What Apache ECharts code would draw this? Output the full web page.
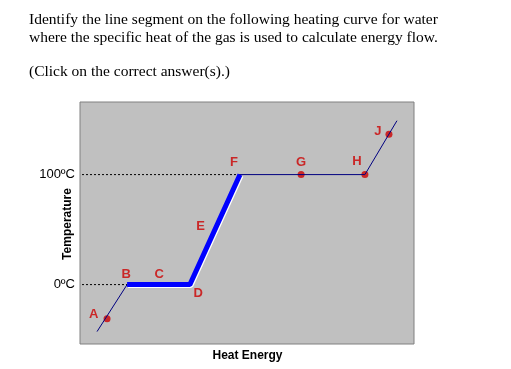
<!DOCTYPE html>
<html><head><meta charset="utf-8">
<script src="https://cdn.jsdelivr.net/npm/echarts@6/dist/echarts.min.js"></script>
<style>html,body{margin:0;padding:0;background:#fff}#c{width:511px;height:369px}</style>
</head><body><div id="c"></div>
<script>
// Heating curve vertices (heat energy units, temperature °C)
const curveX = [5.1, 14.1, 32.9, 47.9, 85.3, 94.9];
const curveT = [-42.7, 0, 0, 100, 100, 149];
// Reference temperatures (tick labels)
const tickTemps = [0, 100];
// Dots on the curve
const dotNames = ['A', 'G', 'H', 'J'];
const dotX = [8.1, 66.2, 85.3, 92.5];
const dotT = [-31, 100, 100, 136.6];
// Segment letters
const letterNames = ['A', 'B', 'C', 'D', 'E', 'F', 'G', 'H', 'J'];
const letterX = [4.1, 13.8, 23.7, 35.4, 36.1, 46.1, 66.2, 82.9, 89.2];
const letterT = [-27.5, 9.7, 9.7, -7.9, 52.6, 111.0, 111.0, 112.4, 139.6];

const pt = i => [curveX[i], curveT[i]];
const chart = echarts.init(document.getElementById('c'), null, {renderer: 'canvas'});
const red = '#cc0000';
const qFont = '15.5px "Liberation Serif", serif';
chart.setOption({
  animation: false,
  backgroundColor: '#ffffff',
  grid: {left: 80, top: 102, width: 334, height: 242, show: true,
    backgroundColor: '#c0c0c0', borderColor: '#808080', borderWidth: 1},
  xAxis: {type: 'value', min: 0, max: 100, axisLine: {show: false}, axisTick: {show: false},
    splitLine: {show: false}, axisLabel: {show: false}},
  yAxis: {type: 'value', min: -54, max: 166, axisLine: {show: false}, axisTick: {show: false},
    splitLine: {show: false},
    axisLabel: {customValues: tickTemps, formatter: v => v + 'ºC', margin: 5,
      fontFamily: 'Liberation Sans, Arial', fontSize: 13, color: '#000'}},
  graphic: [
    {type: 'text', left: 29, top: 12, style: {text: 'Identify the line segment on the following heating curve for water',
      font: qFont, fill: '#000'}},
    {type: 'text', left: 29, top: 30, style: {text: 'where the specific heat of the gas is used to calculate energy flow.',
      font: qFont, fill: '#000'}},
    {type: 'text', left: 29, top: 64, style: {text: '(Click on the correct answer(s).)',
      font: qFont, fill: '#000'}},
    {type: 'text', x: 68, y: 224, rotation: Math.PI / 2, style: {text: 'Temperature', align: 'center', verticalAlign: 'middle',
      font: 'bold 12px "Liberation Sans", Arial', fill: '#000'}},
    {type: 'text', x: 247.5, y: 356, style: {text: 'Heat Energy', align: 'center', verticalAlign: 'middle',
      font: 'bold 12px "Liberation Sans", Arial', fill: '#000'}}
  ],
  series: [
    {type: 'line', data: [[0.6, 0], pt(1)], symbol: 'none', silent: true,
      lineStyle: {color: '#000', width: 1, type: [2, 2]}},
    {type: 'line', data: [[0.6, 100], pt(3)], symbol: 'none', silent: true,
      lineStyle: {color: '#000', width: 1, type: [2, 2]}},
    {type: 'line', data: [pt(0), pt(1)], symbol: 'none', lineStyle: {color: '#000080', width: 1}},
    {type: 'line', data: [pt(3), pt(4), pt(5)], symbol: 'none', lineStyle: {color: '#000080', width: 1}},
    {type: 'line', data: [pt(1), pt(2), pt(3)], symbol: 'none',
      lineStyle: {color: '#0000ff', width: 5, shadowColor: '#ffffff', shadowBlur: 0, shadowOffsetX: 1, shadowOffsetY: 1}},
    {type: 'scatter', data: dotX.map((x, i) => ({name: dotNames[i], value: [x, dotT[i]]})),
      symbolSize: 7, itemStyle: {color: red}},
    {type: 'scatter', data: letterX.map((x, i) => ({name: letterNames[i], value: [x, letterT[i]]})),
      symbolSize: 0, label: {show: true, position: 'inside', formatter: p => p.name, color: red,
        fontFamily: 'Liberation Sans, Arial', fontWeight: 'bold', fontSize: 13}}
  ]
});
</script></body></html>
